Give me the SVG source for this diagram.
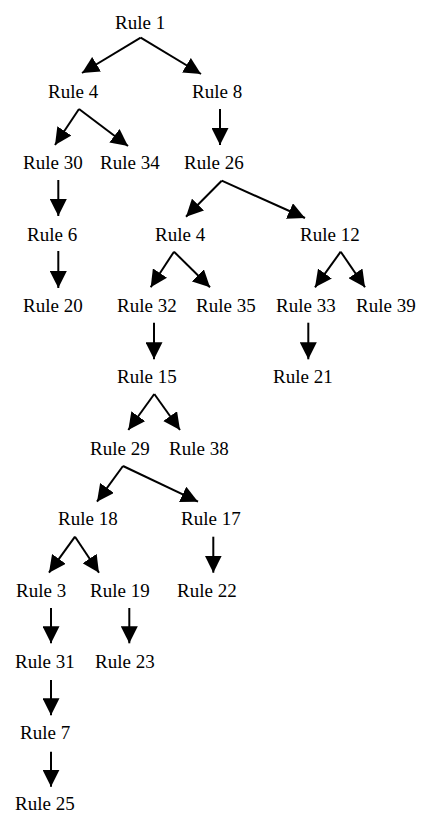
<svg xmlns="http://www.w3.org/2000/svg" width="430" height="813" viewBox="0 0 430 813">
<style>
.t text{font-family:'Liberation Serif','Times New Roman','DejaVu Serif',serif;font-size:19px;fill:#000}
.e line{stroke:#000;stroke-width:2;fill:none;marker-end:url(#ah)}
</style>
<defs>
<marker id="ah" markerUnits="userSpaceOnUse" markerWidth="18" markerHeight="17" refX="17" refY="8.5" orient="auto" viewBox="0 0 18 17">
<path d="M0,0 L17,8.5 L0,17 z" fill="#000"/>
</marker>
</defs>
<rect width="430" height="813" fill="#fff"/>
<g class="e" id="connectors">
<line x1="140.7" y1="37.7" x2="82" y2="73"/>
<line x1="140.7" y1="37.7" x2="201" y2="74"/>
<line x1="79" y1="109" x2="55" y2="145"/>
<line x1="79" y1="109" x2="128" y2="146"/>
<line x1="220" y1="109" x2="220" y2="145"/>
<line x1="58.3" y1="180" x2="58.3" y2="216"/>
<line x1="221.7" y1="180.7" x2="186" y2="216.7"/>
<line x1="221.7" y1="180.7" x2="305" y2="218"/>
<line x1="58.3" y1="251" x2="58.3" y2="288"/>
<line x1="174" y1="251.7" x2="150.7" y2="287.3"/>
<line x1="174" y1="251.7" x2="210" y2="287.3"/>
<line x1="340.7" y1="251.7" x2="315" y2="287.3"/>
<line x1="340.7" y1="251.7" x2="365" y2="287.3"/>
<line x1="154" y1="322.7" x2="154" y2="359.3"/>
<line x1="308.3" y1="322.7" x2="308.3" y2="359.3"/>
<line x1="154.3" y1="394" x2="128.3" y2="430"/>
<line x1="154.3" y1="394" x2="180" y2="430"/>
<line x1="123" y1="466" x2="97" y2="501.7"/>
<line x1="123" y1="466" x2="198" y2="501.7"/>
<line x1="75" y1="536.7" x2="49" y2="572.7"/>
<line x1="75" y1="536.7" x2="99" y2="572.7"/>
<line x1="213.3" y1="536.7" x2="213.3" y2="572.7"/>
<line x1="51" y1="608" x2="51" y2="643.3"/>
<line x1="129.3" y1="608" x2="129.3" y2="643.3"/>
<line x1="51" y1="680" x2="51" y2="715.3"/>
<line x1="51" y1="751.7" x2="51" y2="786.7"/>
</g>
<g class="t" font-family="Liberation Serif, serif">
<g id="r1"><text x="115" y="29">Rule 1</text></g>
<g id="r4a"><text x="48" y="98">Rule 4</text></g>
<g id="r8"><text x="192" y="98">Rule 8</text></g>
<g id="r30"><text x="23" y="169">Rule 30</text></g>
<g id="r34"><text x="100" y="169">Rule 34</text></g>
<g id="r26"><text x="184" y="169">Rule 26</text></g>
<g id="r6"><text x="27" y="241">Rule 6</text></g>
<g id="r4b"><text x="155" y="241">Rule 4</text></g>
<g id="r12"><text x="300" y="241">Rule 12</text></g>
<g id="r20"><text x="23" y="312">Rule 20</text></g>
<g id="r32"><text x="117" y="312">Rule 32</text></g>
<g id="r35"><text x="196" y="312">Rule 35</text></g>
<g id="r33"><text x="276" y="312">Rule 33</text></g>
<g id="r39"><text x="356" y="312">Rule 39</text></g>
<g id="r15"><text x="117" y="383">Rule 15</text></g>
<g id="r21"><text x="273" y="383">Rule 21</text></g>
<g id="r29"><text x="90" y="455">Rule 29</text></g>
<g id="r38"><text x="169" y="455">Rule 38</text></g>
<g id="r18"><text x="58" y="525">Rule 18</text></g>
<g id="r17"><text x="181" y="525">Rule 17</text></g>
<g id="r3"><text x="16" y="597">Rule 3</text></g>
<g id="r19"><text x="90" y="597">Rule 19</text></g>
<g id="r22"><text x="177" y="597">Rule 22</text></g>
<g id="r31"><text x="15" y="668">Rule 31</text></g>
<g id="r23"><text x="95" y="668">Rule 23</text></g>
<g id="r7"><text x="20" y="739">Rule 7</text></g>
<g id="r25"><text x="15" y="810">Rule 25</text></g>
</g>
</svg>
